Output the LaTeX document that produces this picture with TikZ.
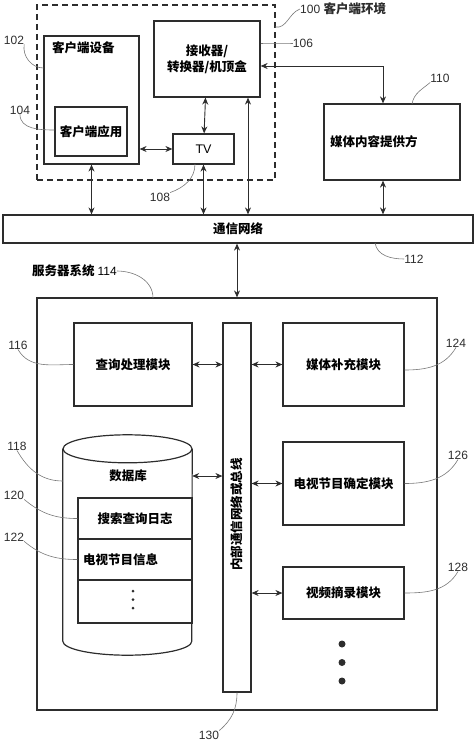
\documentclass[tikz,border=0pt]{standalone}
\usepackage{fontspec}
\setmainfont{Liberation Sans}
\newfontfamily\cjk{Noto Sans CJK SC}
\usepackage{tikz}
\usetikzlibrary{arrows.meta,positioning,calc}
\definecolor{lineGray}{RGB}{45,45,45}
\definecolor{leadGray}{RGB}{120,120,120}

\begin{document}
\begin{tikzpicture}[x=1pt,y=-1pt,
  box/.style={rectangle,draw=lineGray,line width=1.2pt,inner sep=0pt,
              align=center,font=\cjk\bfseries\fontsize{12.5}{16}\selectfont},
  txt/.style={inner sep=0pt,font=\cjk\bfseries\fontsize{12.5}{16}\selectfont},
  num/.style={inner sep=0pt,text=lineGray,font=\fontsize{12}{14}\selectfont},
  iface/.style={{Stealth[length=7pt,width=6pt]}-{Stealth[length=7pt,width=6pt]},lineGray,line width=0.9pt},
  lead/.style={leadGray,line width=0.6pt},
  dot/.style={circle,fill=lineGray,inner sep=0pt}
]
  \useasboundingbox (0,0) rectangle (474,741);
  % client environment
  \node[box,dashed,dash pattern=on 6pt off 4pt,minimum width=238pt,minimum height=175pt] (env) at (156,92.5) {};
  \node[box,minimum width=95pt,minimum height=128pt] (dev) at (91.5,100) {};
  \node[txt,anchor=west] (devlbl) at (52,48) {客户端设备};
  \node[box,minimum width=72pt,minimum height=49pt] (app) at (91,131.5) {客户端应用};
  \node[box,minimum width=106pt,minimum height=76pt] (rcv) at (207,59) {接收器/\\转换器/机顶盒};
  \node[box,minimum width=61pt,minimum height=30pt,font=\fontsize{12.5}{14}\selectfont] (tv) at (203.5,149) {TV};
  \node[box,minimum height=76pt,text width=124pt,inner xsep=6pt,align=left] (media) at (392,142) {媒体内容提供方};
  \node[box,minimum width=470pt,minimum height=28pt] (net) at (238,229) {通信网络};

  % server system
  \node[box,minimum width=400pt,minimum height=412pt] (srv) at (237,504) {};
  \node[box,minimum width=28pt,minimum height=369pt] (bus) at (237,507.5) {};
  \node[txt,rotate=90] (buslbl) at (237,514.5) {内部通信网络或总线};
  \node[box,minimum width=118pt,minimum height=83pt] (qry) at (133,364.5) {查询处理模块};
  \node[box,minimum width=121pt,minimum height=83pt] (msup) at (343.5,364.5) {媒体补充模块};
  \node[box,minimum width=121pt,minimum height=83pt] (tvp) at (343.5,483.5) {电视节目确定模块};
  \node[box,minimum width=121pt,minimum height=52pt] (vid) at (343.5,593) {视频摘录模块};

  % database
  \node[minimum width=129pt,minimum height=192pt,inner sep=0pt] (db) at (127.5,545) {};
  \draw[lineGray,line width=1.2pt] (db.north west) -- (db.south west)
    arc[start angle=180,end angle=360,x radius=64.5pt,y radius=14pt] -- (db.north east);
  \draw[lineGray,line width=1.2pt] (db.north) ellipse[x radius=64.5pt,y radius=14pt];
  \node[txt] (dblbl) at (128,476) {数据库};
  \node[box,minimum width=114pt,minimum height=41pt] (log) at (135,518.5) {搜索查询日志};
  \node[box,minimum width=114pt,minimum height=41pt,text width=104pt,align=left,inner xsep=5pt] (info) at (135,559.5) {电视节目信息};
  \node[box,minimum width=114pt,minimum height=43pt] (more) at (135,601.5) {};
  \foreach \y in {591,599.5,608} \node[dot,minimum size=3pt] at (133,\y) {};
  \foreach \y in {644,662.5,681} \node[dot,minimum size=7pt] at (342,\y) {};

  % connections
  \draw[iface] (rcv) -- (tv);
  \draw[iface] (dev.east |- tv) -- (tv.west);
  \draw[iface] ([yshift=-7pt]rcv.east) -| ([xshift=-9pt]media.north);
  \draw[iface] (dev.south) -- (dev.south |- net.north);
  \draw[iface] (tv.south) -- (tv.south |- net.north);
  \draw[iface] ([xshift=41pt]rcv.south) -- ([xshift=41pt]rcv.south |- net.north);
  \draw[iface] ([xshift=-9pt]media.south) -- ([xshift=-9pt]media.south |- net.north);
  \draw[iface] (srv.north |- net.south) -- (srv.north);
  \draw[iface] (qry.east) -- (qry.east -| bus.west);
  \draw[iface] (msup.west -| bus.east) -- (msup.west);
  \draw[iface] (db.east |- dblbl) -- (bus.west |- dblbl);
  \draw[iface] (tvp.west -| bus.east) -- (tvp.west);
  \draw[iface] (vid.west -| bus.east) -- (vid.west);

  % reference numerals
  \node[num,anchor=west] (n100) at (300,9) {100 {\cjk\bfseries\fontsize{12.5}{14}\selectfont 客户端环境}};
  \node[num] (n102) at (14,40) {102};
  \node[num] (n104) at (20,110) {104};
  \node[num] (n106) at (303,43) {106};
  \node[num] (n108) at (160,197) {108};
  \node[num] (n110) at (440,78) {110};
  \node[num] (n112) at (414,259) {112};
  \node[txt,anchor=west] (n114) at (32,271) {服务器系统 {\normalfont\fontsize{12}{14}\selectfont 114}};
  \node[num] (n116) at (18,345) {116};
  \node[num] (n124) at (456,343) {124};
  \node[num] (n118) at (17,446) {118};
  \node[num] (n126) at (458,455) {126};
  \node[num] (n120) at (14,495) {120};
  \node[num] (n122) at (14,537) {122};
  \node[num] (n128) at (458,567) {128};
  \node[num] (n130) at (209,735) {130};

  \draw[lead] (275,27) to[out=-10,in=200] (n100.west);
  \draw[lead] (n102.south east) to[out=-100,in=180] (dev.west |- 0,68);
  \draw[lead] (n104.south) to[out=-90,in=180] (app.west |- 0,130);
  \draw[lead] (rcv.east |- n106) to[out=0,in=180] (n106.west);
  \draw[lead] (n108.north east) to[out=20,in=-90] (195,164);
  \draw[lead] (n110.south west) to[out=-140,in=80] (412,104);
  \draw[lead] (375,243) to[out=-80,in=180] (n112.west);
  \draw[lead] (n114.east) to[out=0,in=90] (153,298);
  \draw[lead] (n116.south) to[out=-60,in=180] (qry.west);
  \draw[lead] (msup.east |- 0,370) to[out=0,in=-120] (n124.south);
  \draw[lead] (n118.south) to[out=-60,in=180] (db.west |- 0,481);
  \draw[lead] (tvp.east) to[out=0,in=-120] (n126.south);
  \draw[lead] (n120.south east) to[out=-40,in=180] (log.west);
  \draw[lead] (n122.south east) to[out=-40,in=180] (info.west);
  \draw[lead] (vid.east) to[out=0,in=-120] (n128.south);
  \draw[lead] (bus.south) to[out=-90,in=40] (n130.north east);
\end{tikzpicture}
\end{document}
